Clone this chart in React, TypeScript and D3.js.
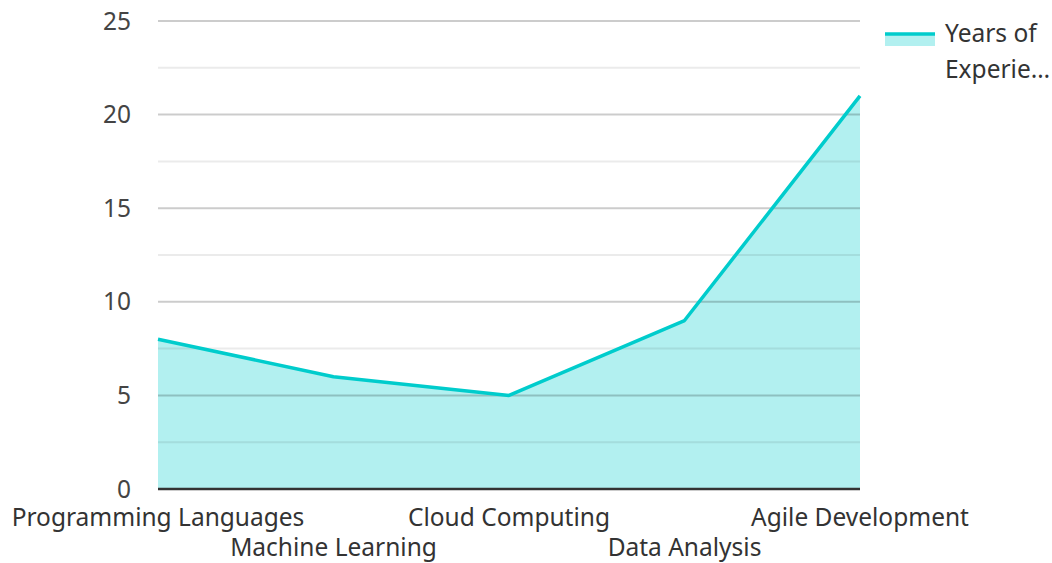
import React from 'react';
import {scaleLinear, scalePoint, line, area} from 'd3';

const categories = ['Programming Languages', 'Machine Learning', 'Cloud Computing', 'Data Analysis', 'Agile Development'];
const years = [8, 6, 5, 9, 21];
const majorTicks = [0, 5, 10, 15, 20, 25];
const minorTicks = [2.5, 7.5, 12.5, 17.5, 22.5];
const seriesName = 'Years of Experience';

const W = 1052;
const H = 563;
const left = 158, right = 860, top = 21, bottom = 489;
const teal = '#00cccc';
const font = '"Noto Sans", sans-serif';
const fs = 24.5;

const App = () => {
  const x = scalePoint<string>().domain(categories).range([left, right]);
  const y = scaleLinear().domain([0, 25]).range([bottom, top]);

  const pts = categories.map((c, i) => ({c, v: years[i]}));
  const linePath = line<{c: string; v: number}>().x(d => x(d.c)!).y(d => y(d.v))(pts)!;
  const areaPath = area<{c: string; v: number}>().x(d => x(d.c)!).y0(y(0)).y1(d => y(d.v))(pts)!;

  return (
    <svg width={W} height={H} style={{position: 'absolute', left: 0, top: 0}} fontFamily={font}>
      <path d={areaPath} fill={teal} fillOpacity={0.3} />
      {minorTicks.map(t => (
        <line key={'m' + t} x1={left} x2={right} y1={y(t)} y2={y(t)} stroke="rgba(0,0,0,0.08)" strokeWidth={2} />
      ))}
      {majorTicks.filter(t => t > 0).map(t => (
        <line key={'g' + t} x1={left} x2={right} y1={y(t)} y2={y(t)} stroke="rgba(0,0,0,0.2)" strokeWidth={2} />
      ))}
      <path d={linePath} fill="none" stroke={teal} strokeWidth={3.5} strokeLinejoin="round" />
      <line x1={left} x2={right} y1={y(0)} y2={y(0)} stroke="#333" strokeWidth={2.5} />
      {majorTicks.map(t => (
        <text key={'t' + t} x={131} y={y(t)} dy="0.35em" textAnchor="end" fontSize={fs} fill="#444">{t}</text>
      ))}
      {categories.map((c, i) => (
        <text key={c} x={x(c)} y={i % 2 === 0 ? 526 : 556} textAnchor="middle" fontSize={fs} fill="#333">{c}</text>
      ))}
      <g>
        <rect x={885} y={33} width={50} height={13} fill={teal} fillOpacity={0.3} />
        <line x1={885} x2={935} y1={34} y2={34} stroke={teal} strokeWidth={3.5} />
        <text x={945} y={42} fontSize={fs} fill="#333">Years of</text>
        <text x={945} y={78} fontSize={fs} fill="#333">Experie…</text>
        <title>{seriesName}</title>
      </g>
    </svg>
  );
};

export default App;
